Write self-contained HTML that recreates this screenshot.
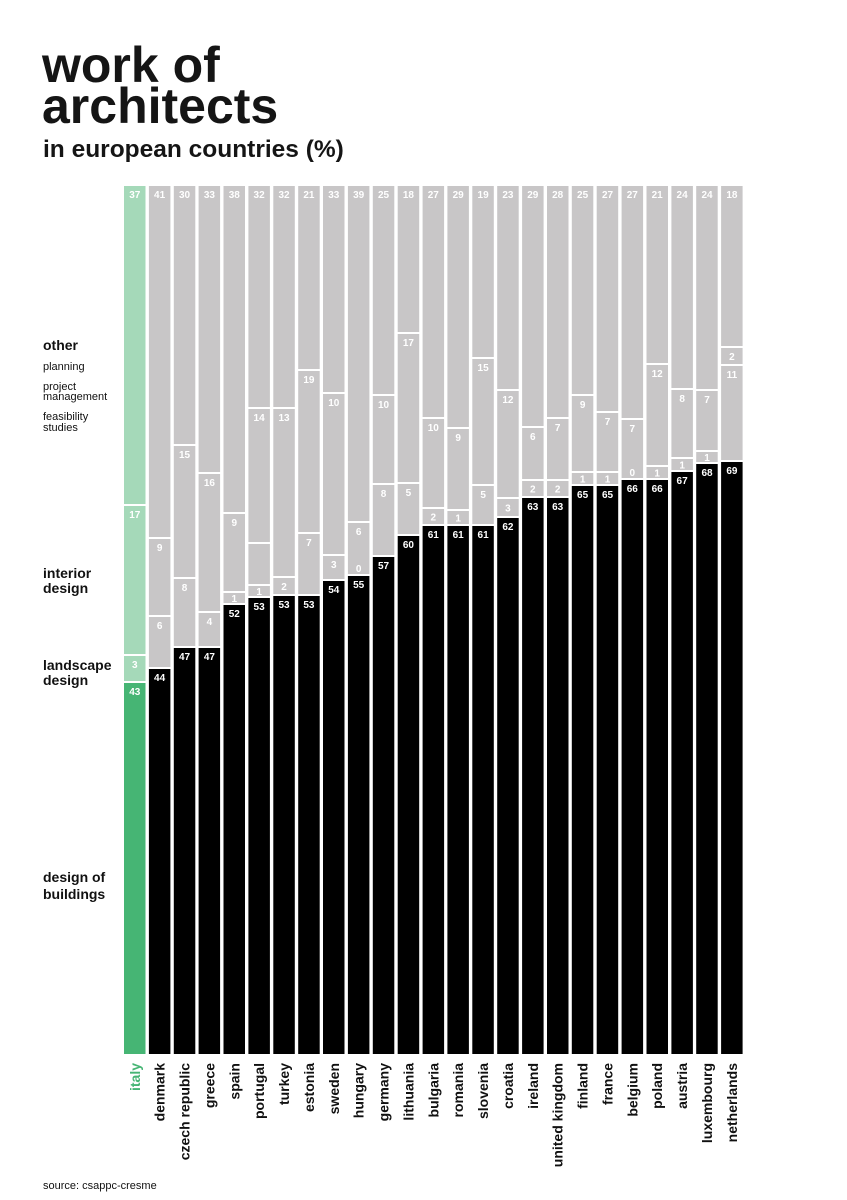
<!DOCTYPE html>
<html><head><meta charset="utf-8"><style>
body{margin:0;background:#fff;}
svg{display:block;font-family:"Liberation Sans",sans-serif;}
.t{font-weight:bold;fill:#151515}
.v{font-size:10px;font-weight:bold;fill:#fff;text-anchor:middle}
.c{font-size:14px;font-weight:bold;fill:#111;text-anchor:end}
.l{font-size:14px;font-weight:bold;fill:#111}
.s{font-size:11px;fill:#111}
</style></head><body>
<svg width="847" height="1200" viewBox="0 0 847 1200">
<text class="t" x="42" y="82" font-size="50">work of</text>
<text class="t" x="42" y="123" font-size="50">architects</text>
<text class="t" x="43" y="157" font-size="24.5">in european countries (%)</text>

<text class="l" x="43" y="350">other</text>
<text class="s" x="43" y="370">planning</text>
<text class="s" x="43" y="390">project</text>
<text class="s" x="43" y="400">management</text>
<text class="s" x="43" y="420">feasibility</text>
<text class="s" x="43" y="431">studies</text>
<text class="l" x="43" y="578">interior</text>
<text class="l" x="43" y="593">design</text>
<text class="l" x="43" y="670">landscape</text>
<text class="l" x="43" y="685">design</text>
<text class="l" x="43" y="882">design of</text>
<text class="l" x="43" y="899">buildings</text>
<text class="s" x="43" y="1189">source: csappc-cresme</text>

<g id="bars"></g>
</svg>
<script>
var data=[
["italy",[185,505,655,682,1055],["37","17","3","43"]],
["denmark",[185,538,616,668,1055],["41","9","6","44"]],
["czech republic",[185,445,578,647,1055],["30","15","8","47"]],
["greece",[185,473,612,647,1055],["33","16","4","47"]],
["spain",[185,513,592,604,1055],["38","9","1","52"]],
["portugal",[185,408,543,585,597,1055],["32","14","","1","53"]],
["turkey",[185,408,577,595,1055],["32","13","2","53"]],
["estonia",[185,370,533,595,1055],["21","19","7","53"]],
["sweden",[185,393,555,580,1055],["33","10","3","54"]],
["hungary",[185,522,575,1055],["39","6","55"],"0"],
["germany",[185,395,484,556,1055],["25","10","8","57"]],
["lithuania",[185,333,483,535,1055],["18","17","5","60"]],
["bulgaria",[185,418,508,525,1055],["27","10","2","61"]],
["romania",[185,428,510,525,1055],["29","9","1","61"]],
["slovenia",[185,358,485,525,1055],["19","15","5","61"]],
["croatia",[185,390,498,517,1055],["23","12","3","62"]],
["ireland",[185,427,480,497,1055],["29","6","2","63"]],
["united kingdom",[185,418,480,497,1055],["28","7","2","63"]],
["finland",[185,395,472,485,1055],["25","9","1","65"]],
["france",[185,412,472,485,1055],["27","7","1","65"]],
["belgium",[185,419,479,1055],["27","7","66"],"0"],
["poland",[185,364,466,479,1055],["21","12","1","66"]],
["austria",[185,389,458,471,1055],["24","8","1","67"]],
["luxembourg",[185,390,451,463,1055],["24","7","1","68"]],
["netherlands",[185,347,365,461,1055],["18","2","11","69"]]
];
var h="";
for(var i=0;i<data.length;i++){
 var d=data[i],x=124+i*24.88,cx=x+10.75,b=d[1],n=b.length-1;
 for(var j=0;j<n;j++){
  var a=b[j],e=b[j+1],last=(j==n-1);
  var col=i==0?(last?"#46b574":"#a5d9b9"):(last?"#000":"#c8c6c7");
  h+='<rect x="'+x.toFixed(1)+'" y="'+(a+1)+'" width="21.5" height="'+(e-a-2)+'" fill="'+col+'"/>';
  var ty=(e-a<22)?(a+(e-a)/2+4):(a+13);
  if(d[2][j])h+='<text class="v" x="'+cx.toFixed(1)+'" y="'+ty+'">'+d[2][j]+'</text>';
 }
 if(d[3])h+='<text class="v" x="'+cx.toFixed(1)+'" y="'+(b[n-1]-3)+'">'+d[3]+'</text>';
 h+='<text class="c" transform="translate('+(cx+5).toFixed(1)+',1063) rotate(-90)"'+(i==0?' style="fill:#46b574"':'')+'>'+d[0]+'</text>';
}
document.getElementById("bars").innerHTML=h;
</script>
</body></html>
